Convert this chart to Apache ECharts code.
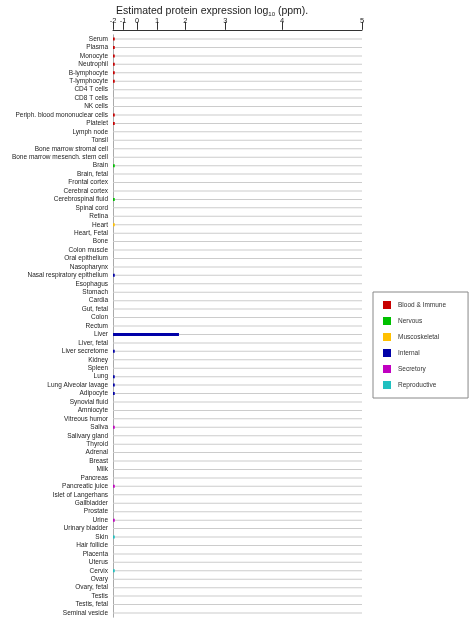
<!DOCTYPE html>
<html>
<head>
<meta charset="utf-8">
<script src="https://cdn.jsdelivr.net/npm/echarts@6/dist/echarts.min.js"></script>
<style>
  html, body { margin: 0; padding: 0; background: #fff; }
  #chart { width: 474px; height: 631px; }
</style>
</head>
<body>
<div id="chart"></div>
<script>
// tissues, top to bottom
var tissues = [
    'Serum', 'Plasma', 'Monocyte', 'Neutrophil', 'B-lymphocyte', 'T-lymphocyte',
    'CD4 T cells', 'CD8 T cells', 'NK cells', 'Periph. blood mononuclear cells',
    'Platelet', 'Lymph node', 'Tonsil', 'Bone marrow stromal cell',
    'Bone marrow mesench. stem cell', 'Brain', 'Brain, fetal', 'Frontal cortex',
    'Cerebral cortex', 'Cerebrospinal fluid', 'Spinal cord', 'Retina', 'Heart',
    'Heart, Fetal', 'Bone', 'Colon muscle', 'Oral epithelium', 'Nasopharynx',
    'Nasal respiratory epithelium', 'Esophagus', 'Stomach', 'Cardia', 'Gut, fetal',
    'Colon', 'Rectum', 'Liver', 'Liver, fetal', 'Liver secretome', 'Kidney',
    'Spleen', 'Lung', 'Lung Alveolar lavage', 'Adipocyte', 'Synovial fluid',
    'Amniocyte', 'Vitreous humor', 'Saliva', 'Salivary gland', 'Thyroid',
    'Adrenal', 'Breast', 'Milk', 'Pancreas', 'Pancreatic juice',
    'Islet of Langerhans', 'Gallbladder', 'Prostate', 'Urine', 'Urinary bladder',
    'Skin', 'Hair follicle', 'Placenta', 'Uterus', 'Cervix', 'Ovary',
    'Ovary, fetal', 'Testis', 'Testis, fetal', 'Seminal vesicle'
];

// tissue group index (see groupNames)
var tissueGroup = [
    0, 0, 0, 0, 0, 0, 0, 0, 0, 0, 0, 0, 0, 0, 0,
    1, 1, 1, 1, 1, 1, 1,
    2, 2, 2, 2,
    3, 3, 3, 3, 3, 3, 3, 3, 3, 3, 3, 3, 3, 3, 3, 3, 3,
    4, 4, 4, 4, 4, 4, 4, 4, 4, 4, 4, 4, 4, 4, 4,
    5, 5, 5, 5, 5, 5, 5, 5, 5, 5, 5
];

// log10(ppm), null = not detected
var expression = [
    -1.8, -1.8, -1.8, -1.8, -1.8, -1.8, null, null, null, -1.8,
    -1.8, null, null, null, null, -1.8, null, null, null, -1.8,
    null, null, -1.8, null, null, null, null, null, -1.8, null,
    null, null, null, null, null, 1.8, null, -1.8, null, null,
    -1.8, -1.8, -1.8, null, null, null, -1.8, null, null, null,
    null, null, null, -1.8, null, null, null, -1.8, null, -1.8,
    null, null, null, -1.8, null, null, null, null, null
];

var groupNames = ['Blood & Immune', 'Nervous', 'Muscoskeletal', 'Internal', 'Secretory', 'Reproductive'];
var groupColors = ['#c80000', '#00c000', '#ffc000', '#0000a8', '#c000c0', '#20c0c0'];

var tickValues = [-2, -1, 0, 1, 2, 3, 4, 5];

// the axis is drawn in sqrt(2)^x
function toAxis(v) { return Math.pow(2, v / 2); }
function fromAxis(p) { return Math.round(2 * Math.log(p) / Math.LN2); }

var myChart = echarts.init(document.getElementById('chart'));

var series = [{
    // grey row lines
    name: 'track',
    type: 'bar',
    yAxisIndex: 1,
    silent: true,
    barWidth: 1,
    showBackground: true,
    backgroundStyle: { color: '#cccccc' },
    data: tissues.map(function () { return '-'; })
}];

groupNames.forEach(function (name, g) {
    series.push({
        name: name,
        type: 'bar',
        yAxisIndex: 0,
        barWidth: 3,
        barGap: '-100%',
        itemStyle: { color: groupColors[g] },
        data: expression.map(function (v, i) {
            return (tissueGroup[i] === g && v !== null) ? toAxis(v) : '-';
        })
    });
});

var axisPos = tickValues.map(toAxis);

var option = {
    animation: false,
    backgroundColor: '#fff',
    textStyle: { fontFamily: 'Liberation Sans, Arial, sans-serif' },
    title: {
        text: 'Estimated protein expression log{sub|10} (ppm).',
        left: 111,
        top: 0,
        textStyle: {
            fontSize: 10.5,
            fontWeight: 'normal',
            color: '#222',
            rich: {
                sub: { fontSize: 6, verticalAlign: 'bottom', padding: [6, 0, 0, 0], color: '#222' }
            }
        }
    },
    legend: {
        orient: 'vertical',
        left: 373,
        top: 292,
        data: groupNames,
        icon: 'rect',
        itemWidth: 8,
        itemHeight: 8,
        itemGap: 8,
        padding: [9, 22, 9, 10],
        borderColor: '#888',
        borderWidth: 1,
        backgroundColor: '#fff',
        textStyle: { fontSize: 6.5, color: '#333', padding: [0, 0, 0, 2] }
    },
    grid: {
        left: 113,
        right: 112,
        top: 34.8,
        bottom: 13.8,
        containLabel: false
    },
    xAxis: {
        type: 'value',
        position: 'top',
        offset: 5,
        min: toAxis(-2),
        max: toAxis(5),
        axisLine: { show: true, lineStyle: { color: '#333', width: 1 } },
        axisTick: {
            show: true,
            length: 8,
            customValues: axisPos,
            lineStyle: { color: '#333' }
        },
        axisLabel: {
            customValues: axisPos,
            fontSize: 7.5,
            color: '#222',
            margin: 5,
            formatter: function (p) { return String(fromAxis(p)); }
        },
        splitLine: { show: false }
    },
    yAxis: [{
        type: 'category',
        data: tissues,
        inverse: true,
        axisLine: { show: true, lineStyle: { color: '#aaa' } },
        axisTick: { show: false },
        axisLabel: { interval: 0, fontSize: 6.5, color: '#222', margin: 5 },
        splitLine: { show: false }
    }, {
        type: 'category',
        data: tissues,
        inverse: true,
        show: false
    }],
    series: series
};

myChart.setOption(option);
</script>
</body>
</html>
